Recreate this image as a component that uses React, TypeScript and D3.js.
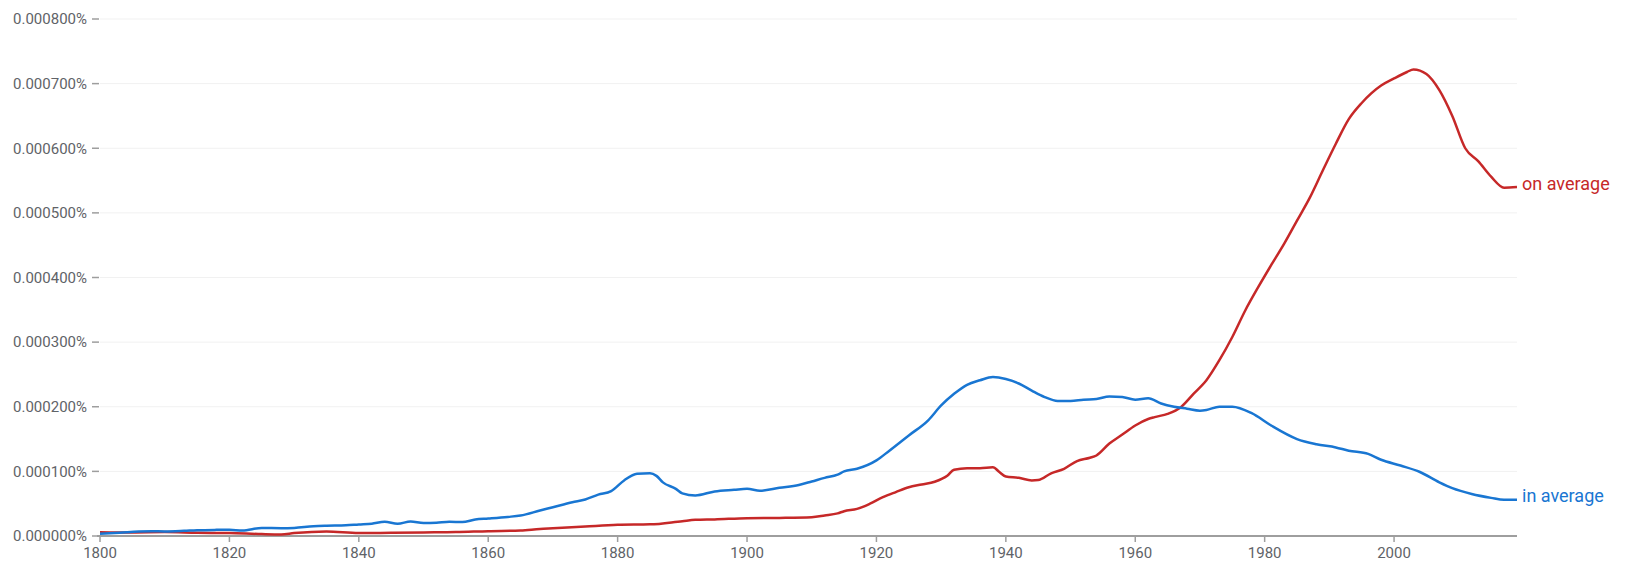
import React from "react";
import * as d3 from "d3";

// "in average" — percent values (units: 1e-4 %)
const inYears = [1800,1803,1806,1808,1810,1813,1815,1818,1820,1822,1825,1828,1830,1833,1835,1838,1840,1842,1844,1846,1848,1850,1852,1854,1856,1858,1860,1863,1865,1868,1870,1873,1875,1877,1879,1881,1883,1885,1886,1887,1889,1890,1892,1895,1898,1900,1902,1905,1908,1910,1912,1914,1915,1917,1920,1922,1925,1928,1930,1932,1934,1936,1938,1940,1942,1944,1946,1948,1950,1952,1954,1956,1958,1960,1962,1964,1966,1968,1970,1971,1973,1975,1978,1981,1985,1988,1991,1993,1996,1998,2001,2004,2007,2009,2012,2015,2017,2019];
const inValues = [0.034,0.05,0.07,0.075,0.07,0.08,0.09,0.095,0.096,0.085,0.125,0.12,0.125,0.15,0.158,0.165,0.178,0.19,0.22,0.19,0.225,0.2,0.205,0.22,0.215,0.255,0.27,0.295,0.317,0.395,0.446,0.523,0.565,0.64,0.694,0.86,0.963,0.97,0.93,0.83,0.73,0.66,0.627,0.69,0.715,0.73,0.70,0.746,0.79,0.844,0.9,0.95,1.0,1.04,1.17,1.32,1.556,1.79,2.02,2.2,2.34,2.41,2.46,2.43,2.36,2.25,2.15,2.09,2.09,2.11,2.12,2.16,2.15,2.11,2.13,2.05,2.0,1.97,1.94,1.95,2.0,2.0,1.9,1.71,1.5,1.42,1.37,1.32,1.27,1.18,1.09,0.99,0.83,0.74,0.65,0.59,0.56,0.56];

// "on average" — percent values (units: 1e-4 %)
const onYears = [1800,1805,1810,1815,1820,1825,1828,1830,1835,1840,1845,1850,1855,1860,1865,1868,1870,1875,1880,1885,1890,1892,1895,1900,1905,1910,1912,1914,1915,1917,1919,1921,1923,1925,1927,1929,1931,1932,1934,1936,1938,1939,1940,1942,1944,1945,1947,1949,1951,1953,1954,1956,1958,1960,1962,1963,1965,1967,1969,1971,1973,1975,1977,1979,1981,1983,1985,1987,1989,1991,1993,1995,1998,2000,2002,2003,2005,2007,2009,2011,2013,2015,2017,2019];
const onValues = [0.06,0.055,0.06,0.05,0.045,0.03,0.025,0.045,0.07,0.045,0.05,0.055,0.06,0.075,0.085,0.11,0.12,0.147,0.173,0.18,0.23,0.25,0.257,0.276,0.28,0.29,0.317,0.35,0.384,0.42,0.5,0.6,0.68,0.755,0.797,0.84,0.937,1.025,1.05,1.05,1.065,0.99,0.92,0.9,0.86,0.865,0.97,1.04,1.16,1.21,1.246,1.43,1.57,1.71,1.81,1.84,1.89,1.99,2.2,2.41,2.72,3.08,3.49,3.85,4.19,4.52,4.88,5.24,5.66,6.07,6.45,6.7,6.97,7.08,7.18,7.22,7.15,6.9,6.5,6.0,5.8,5.56,5.39,5.4];

const yTicks = [0, 0.0001, 0.0002, 0.0003, 0.0004, 0.0005, 0.0006, 0.0007, 0.0008];
const xTicks = [1800, 1820, 1840, 1860, 1880, 1900, 1920, 1940, 1960, 1980, 2000];

const seriesList = [
  { name: "on average", years: onYears, values: onValues, color: "#c62828" },
  { name: "in average", years: inYears, values: inValues, color: "#1976d2" },
];

const W = 1625;
const H = 566;
const FONT = "Roboto, 'Noto Sans', sans-serif";

export default function App() {
  const x = d3.scaleLinear().domain([1800, 2019]).range([100, 1517]);
  const y = d3.scaleLinear().domain([0, 0.0008]).range([536, 19]);
  const line = d3
    .line<[number, number]>()
    .x((d) => x(d[0]))
    .y((d) => y(d[1]))
    .curve(d3.curveMonotoneX);

  return (
    <div style={{ position: "absolute", left: 0, top: 0 }}>
      <svg width={W} height={H} style={{ display: "block", background: "#fff" }}>
        {yTicks.map((t) => (
          <g key={t}>
            <line x1={x(1800)} x2={x(2019)} y1={y(t)} y2={y(t)} stroke="#f1f1f1" strokeWidth={1} />
            <line x1={92} x2={99} y1={y(t)} y2={y(t)} stroke="#9e9e9e" strokeWidth={1.5} />
            <text
              x={87}
              y={y(t) + 5.3}
              textAnchor="end"
              fontFamily={FONT}
              fontSize={15}
              fill="#5f6368"
            >
              {t.toFixed(6) + "%"}
            </text>
          </g>
        ))}
        <line x1={x(1800) - 3} x2={x(2019)} y1={y(0)} y2={y(0)} stroke="#9e9e9e" strokeWidth={2} />
        {xTicks.map((t) => (
          <g key={t}>
            <line x1={x(t)} x2={x(t)} y1={y(0)} y2={y(0) + 6} stroke="#9e9e9e" strokeWidth={1.5} />
            <text
              x={x(t)}
              y={558}
              textAnchor="middle"
              fontFamily={FONT}
              fontSize={15}
              fill="#5f6368"
            >
              {t}
            </text>
          </g>
        ))}
        {seriesList.map((s) => {
          const pts: [number, number][] = s.years.map((yr, i) => [yr, s.values[i] * 1e-4]);
          const last = pts[pts.length - 1];
          return (
            <g key={s.name}>
              <path d={line(pts) || ""} fill="none" stroke={s.color} strokeWidth={2.5} strokeLinejoin="round" />
              <text
                x={x(last[0]) + 5}
                y={y(last[1]) + 2.5}
                fontFamily={FONT}
                fontSize={18}
                fill={s.color}
              >
                {s.name}
              </text>
            </g>
          );
        })}
      </svg>
    </div>
  );
}
